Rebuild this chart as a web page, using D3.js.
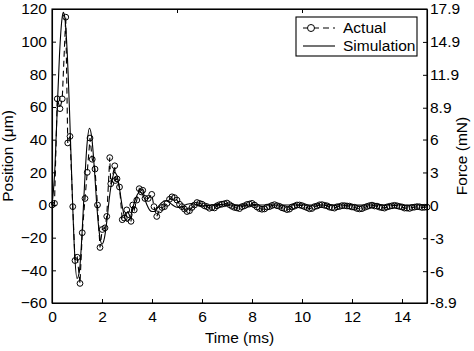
<!DOCTYPE html>
<html>
<head>
<meta charset="utf-8">
<script src="https://cdn.jsdelivr.net/npm/d3@7"></script>
<style>
  body { margin: 0; background: #fff; }
  svg text { font-family: Arial, "Liberation Sans", Helvetica, sans-serif; fill: #000; }
</style>
</head>
<body>
<div id="chart"></div>
<script>
// measured position (um) vs time (ms)
const actualTime = [0, 0.10, 0.21, 0.32, 0.41, 0.55, 0.63, 0.72, 0.83, 0.92, 1.01, 1.12, 1.21, 1.32, 1.41, 1.52, 1.61, 1.72, 1.82, 1.92,
  2.01, 2.12, 2.19, 2.31, 2.35, 2.51, 2.53, 2.60, 2.70, 2.81, 2.89, 2.99, 3.09, 3.16, 3.23, 3.29, 3.39, 3.49, 3.57, 3.63,
  3.72, 3.85, 3.99, 4.08, 4.19, 4.3, 4.4, 4.5, 4.6, 4.7, 4.8, 4.9, 5.0, 5.1, 5.2, 5.3, 5.4, 5.5, 5.6, 5.7, 5.8, 5.9,
  6.0, 6.1, 6.2, 6.3, 6.4, 6.5, 6.6, 6.7, 6.8, 6.9, 7.0, 7.1, 7.2, 7.3, 7.4, 7.5, 7.6, 7.7, 7.8, 7.9,
  8.0, 8.1, 8.2, 8.3, 8.4, 8.5, 8.6, 8.7, 8.8, 8.9, 9.0, 9.1, 9.2, 9.3, 9.4, 9.5, 9.6, 9.7, 9.8, 9.9,
  10.0, 10.1, 10.2, 10.3, 10.4, 10.5, 10.6, 10.7, 10.8, 10.9, 11.0, 11.1, 11.2, 11.3, 11.4, 11.5, 11.6, 11.7, 11.8, 11.9,
  12.0, 12.1, 12.2, 12.3, 12.4, 12.5, 12.6, 12.7, 12.8, 12.9, 13.0, 13.1, 13.2, 13.3, 13.4, 13.5, 13.6, 13.7, 13.8, 13.9,
  14.0, 14.1, 14.2, 14.3, 14.4, 14.5, 14.6, 14.7, 14.8, 14.9, 15.0];
const actualPos = [0, 1, 65, 59, 65, 115, 38, 42, -1, -34, -32, -48, -17, 4, 20, 41, 28, 22, 0, -26,
  -15, -14, -7, 29, 13, 24, 15, 16, 11, -9, -8, -3, -6, -10, 0, -3, 3, 10, 8, 9,
  4, 4, 6.5, -1, -7, -3, -1.5, -1, 1, 3.5, 5, 4.5, 3, 0.5, -1, -2.5, -4, -3.5, -1.5, 0, 1.5, 1,
  0.5, -0.5, -1, -2, -1.5, -1.8, -0.5, 0.2, 0.5, 0.8, 1.2, 0.2, -0.8, -1.5, -1.8, -2.2, -1, -0.5, 0.3, 0.6,
  1, 0, -1.2, -2.2, -2.6, -2.4, -1.3, -1, -0.3, 0.2, -0.4, -0.8, -1.7, -2.2, -2.8, -2.5, -1.2, -0.7, 0, 0,
  -0.4, -1, -1.6, -2.3, -2.1, -1, -0.6, 0.1, 0.2, -0.2, -0.5, -1.3, -1.6, -1.9, -1.1, -0.9, -0.4, -0.4, -0.6, -0.7,
  -1.2, -1.4, -2.1, -2.4, -2.2, -1.5, -0.9, -0.4, -0.1, -0.6, -0.7, -1.3, -1.6, -1.9, -1.2, -0.8, -0.5, -0.2, -0.5, -0.9,
  -1.2, -1.9, -1.9, -2.1, -1.5, -1.3, -1, -1.1, -1.5, -1.4, -1.3];

// simulated position
const simTime = [0, 0.1, 0.2, 0.3, 0.4, 0.45, 0.5, 0.6, 0.7, 0.8, 0.9, 1.0, 1.1, 1.2, 1.3, 1.4, 1.5, 1.6, 1.7, 1.8, 1.9,
  2.0, 2.1, 2.2, 2.3, 2.4, 2.5, 2.6, 2.7, 2.8, 2.9, 3.0, 3.1, 3.2, 3.3, 3.4, 3.5, 3.6, 3.7, 3.8, 3.9,
  4.0, 4.1, 4.2, 4.3, 4.4, 4.5, 4.6, 4.7, 4.8, 4.9, 5.0, 5.1, 5.2, 5.3, 5.4, 5.5, 5.6, 5.7, 5.8, 5.9,
  6.0, 6.2, 6.4, 6.6, 6.8, 7.0, 7.5, 8.0, 15.0];
const simPos = [0, 18, 55, 92, 114, 118, 116, 96, 58, 12, -28, -45, -40, -18, 12, 37, 47, 40, 21, -2, -18,
  -24, -20, -9, 5, 15, 20, 18, 10, 0, -7, -10, -9, -4, 2, 6, 8, 7, 4, 0, -3,
  -4, -4, -2, 0, 1.5, 2.5, 2.5, 1.5, 0.3, -0.8, -1.4, -1.5, -1, -0.3, 0.4, 0.8, 0.9, 0.6, 0.1, -0.3,
  -0.5, -0.4, 0, 0.3, 0.2, 0, -0.1, 0, 0];

const timeTicks = [0, 2, 4, 6, 8, 10, 12, 14];
const topTicks = [5, 10];
const posTicks = [-60, -40, -20, 0, 20, 40, 60, 80, 100, 120];
const forceTicks = [-8.9, -6, -3, 0, 3, 6, 8.9, 11.9, 14.9, 17.9];
const seriesNames = ["Actual", "Simulation"];

const W = 474, H = 351;
const margin = { left: 52, right: 427, top: 9, bottom: 303 };

const svg = d3.select("#chart").append("svg")
    .attr("width", W).attr("height", H);

const x = d3.scaleLinear().domain([0, 15]).range([margin.left, margin.right]);
const y = d3.scaleLinear().domain([-60, 120]).range([margin.bottom, margin.top]);
const yF = d3.scaleLinear().domain([-8.9, 17.9]).range([margin.bottom, margin.top]);

// frame
svg.append("rect")
    .attr("x", margin.left).attr("y", margin.top)
    .attr("width", margin.right - margin.left).attr("height", margin.bottom - margin.top)
    .attr("fill", "none").attr("stroke", "#000").attr("stroke-width", 1.1);

function styleAxis(g) {
    g.select(".domain").attr("stroke", "#000").attr("stroke-width", 1.1);
    g.selectAll(".tick line").attr("stroke", "#000");
    g.selectAll(".tick text").style("font-size", "15.5px").attr("fill", "#000");
}

svg.append("g")
    .attr("transform", `translate(0,${margin.bottom})`)
    .call(d3.axisBottom(x).tickValues(timeTicks).tickFormat(d3.format("d"))
        .tickSizeInner(-4).tickSizeOuter(0).tickPadding(8))
    .call(styleAxis);

svg.append("g")
    .attr("transform", `translate(0,${margin.top})`)
    .call(d3.axisTop(x).tickValues(topTicks).tickFormat("")
        .tickSizeInner(-4).tickSizeOuter(0))
    .call(styleAxis);

svg.append("g")
    .attr("transform", `translate(${margin.left},0)`)
    .call(d3.axisLeft(y).tickValues(posTicks).tickFormat(d3.format("d"))
        .tickSizeInner(-4).tickSizeOuter(0).tickPadding(5))
    .call(styleAxis);

svg.append("g")
    .attr("transform", `translate(${margin.right},0)`)
    .call(d3.axisRight(yF).tickValues(forceTicks).tickFormat(d => String(d))
        .tickSizeInner(-4).tickSizeOuter(0).tickPadding(3))
    .call(styleAxis);

// axis titles
svg.append("text")
    .attr("x", (margin.left + margin.right) / 2).attr("y", 343)
    .attr("text-anchor", "middle").style("font-size", "15.5px")
    .text("Time (ms)");

svg.append("text")
    .attr("transform", `translate(13,${(margin.top + margin.bottom) / 2}) rotate(-90)`)
    .attr("text-anchor", "middle").style("font-size", "15.5px")
    .text("Position (μm)");

svg.append("text")
    .attr("transform", `translate(467,${(margin.top + margin.bottom) / 2}) rotate(-90)`)
    .attr("text-anchor", "middle").style("font-size", "15.5px")
    .text("Force (mN)");

// series
const actual = actualTime.map((t, i) => ({ t: t, v: actualPos[i] }));
const sim = simTime.map((t, i) => ({ t: t, v: simPos[i] }));

const plot = svg.append("g");

plot.append("path")
    .datum(sim)
    .attr("fill", "none").attr("stroke", "#000").attr("stroke-width", 1.1)
    .attr("d", d3.line().x(d => x(d.t)).y(d => y(d.v)).curve(d3.curveMonotoneX));

plot.append("path")
    .datum(actual)
    .attr("fill", "none").attr("stroke", "#000").attr("stroke-width", 1.1)
    .attr("stroke-dasharray", "6,4")
    .attr("d", d3.line().x(d => x(d.t)).y(d => y(d.v)));

plot.selectAll("circle.pt")
    .data(actual)
    .enter().append("circle")
    .attr("class", "pt")
    .attr("cx", d => x(d.t)).attr("cy", d => y(d.v))
    .attr("r", 2.9)
    .attr("fill", "none").attr("stroke", "#000").attr("stroke-width", 1);

// legend
const legend = svg.append("g").attr("transform", "translate(296,17)");
legend.append("rect")
    .attr("width", 121).attr("height", 39)
    .attr("fill", "#fff").attr("stroke", "#000").attr("stroke-width", 1.1);

legend.append("line")
    .attr("x1", 7).attr("x2", 39).attr("y1", 11).attr("y2", 11)
    .attr("stroke", "#000").attr("stroke-width", 1.1).attr("stroke-dasharray", "6,4");
legend.append("circle")
    .attr("cx", 15).attr("cy", 11).attr("r", 3.5)
    .attr("fill", "#fff").attr("stroke", "#000").attr("stroke-width", 1);
legend.append("line")
    .attr("x1", 7).attr("x2", 39).attr("y1", 29).attr("y2", 29)
    .attr("stroke", "#000").attr("stroke-width", 1.1);

legend.selectAll("text.legend")
    .data(seriesNames)
    .enter().append("text")
    .attr("class", "legend")
    .attr("x", 47)
    .attr("y", (d, i) => 16 + i * 18)
    .style("font-size", "15.5px")
    .text(d => d);
</script>
</body>
</html>
